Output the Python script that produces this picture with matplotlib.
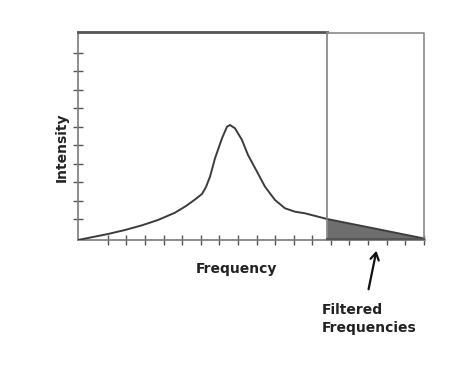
import matplotlib
matplotlib.use("Agg")
import matplotlib.pyplot as plt
import numpy as np

# Spectrum curve (x: frequency, y: intensity)
freq = [0, 30, 47, 64, 80, 97, 108, 117, 124, 128, 132, 137, 144, 149, 152, 157,
        164, 170, 179, 187, 197, 207, 217, 227, 249, 299, 346]
intensity = [0, 6, 10, 14.7, 20, 27.3, 34, 40.5, 46, 53, 63.3, 81.7, 101.7, 113.3, 115, 111.7,
             100, 85, 68.3, 53.3, 40, 31.7, 28.3, 26.7, 21, 11, 1.5]
cutoff = 249
x_max = 347
y_max = 208

x_label = "Frequency"
y_label = "Intensity"
note = "Filtered\nFrequencies"

W, H = 474, 380
fig = plt.figure(figsize=(W / 100, H / 100), dpi=100)
ax = fig.add_axes([78 / W, 140 / H, 347 / W, 208 / H])
ax.set_xlim(0, x_max)
ax.set_ylim(0, y_max)

fx = np.array(freq, float)
fy = np.array(intensity, float)
ax.plot(fx, fy, color="#3c3c3c", lw=1.4, zorder=3, solid_joinstyle="round")

# shaded filtered region
mask = fx >= cutoff
xs = np.concatenate([[cutoff], fx[mask]])
ys = np.interp(xs, fx, fy)
ax.fill_between(xs, 0, ys, color="#6e6e6e", zorder=2, lw=0)

for s in ["top", "right"]:
    ax.spines[s].set_visible(False)
for s in ["left", "bottom"]:
    ax.spines[s].set_color("#7a7a7a")
    ax.spines[s].set_linewidth(1.2)

# top line of the left box, divider and right box
ax.plot([0, cutoff], [y_max, y_max], color="#555555", lw=2.0, clip_on=False, zorder=4)
ax.plot([cutoff, cutoff], [0, y_max], color="#808080", lw=1.2, clip_on=False, zorder=4)
ax.plot([cutoff, x_max - 1, x_max - 1], [y_max - 0.5, y_max - 0.5, 0], color="#8a8a8a", lw=1.2, clip_on=False, zorder=4)
ax.plot([cutoff, x_max], [0.8, 0.8], color="#555555", lw=1.5, zorder=4)

ax.set_xticks(29.7 + 18.6 * np.arange(18))
ax.set_yticks(21 + 18.5 * np.arange(10))
ax.tick_params(axis="both", direction="inout", length=7, width=1.0, color="#555555",
               labelbottom=False, labelleft=False)

fig.text(62 / W, 1 - 147 / H, y_label, rotation=90, ha="center", va="center",
         fontsize=10, fontweight="bold", color="#222222")
fig.text(236 / W, 1 - 269 / H, x_label, ha="center", va="center",
         fontsize=10, fontweight="bold", color="#222222")
fig.text(322 / W, 1 - 319 / H, note, ha="left", va="center",
         fontsize=10, fontweight="bold", color="#222222", linespacing=1.35)

fig.patches.append(matplotlib.patches.FancyArrowPatch(
    (368 / W, 1 - 292 / H), (377 / W, 1 - 248 / H), transform=fig.transFigure,
    arrowstyle="->,head_length=5,head_width=3", color="#111111", lw=1.6))

fig.savefig("out.png", dpi=100, facecolor="white")
